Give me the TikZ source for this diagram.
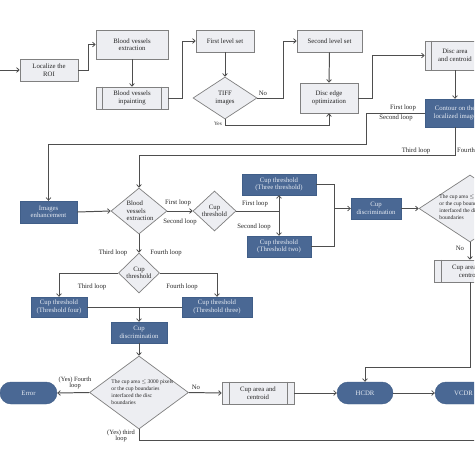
\documentclass[tikz,border=0pt]{standalone}
\usepackage{fontspec}
\setmainfont{Liberation Serif}
\usetikzlibrary{shapes.geometric,arrows.meta,calc}
\definecolor{dblue}{HTML}{4A6894}
\definecolor{dborder}{HTML}{405E88}
\definecolor{lfill}{HTML}{EDEEF2}
\definecolor{lborder}{HTML}{808080}
\definecolor{lnc}{HTML}{4E4E4E}
\definecolor{txt}{HTML}{262626}
\definecolor{wtxt}{HTML}{E6EBF3}
\begin{document}
\begin{tikzpicture}[x=0.5mm,y=-0.5mm,
  boxfont/.style={font=\fontsize{9.6}{10.8}\selectfont},
  lbox/.style={draw=lborder,line width=1pt,fill=lfill,text=txt,align=center,inner sep=0pt,boxfont},
  dbox/.style={draw=dborder,line width=0.6pt,fill=dblue,text=wtxt,align=center,inner sep=0pt,boxfont},
  stad/.style={dbox,rounded corners=5.5mm},
  dia/.style={diamond,draw=lborder,line width=1pt,fill=lfill,inner sep=0pt},
  dtext/.style={text=txt,align=center,boxfont},
  smalltext/.style={text=txt,align=left,font=\fontsize{7.9}{9.6}\selectfont},
  lab/.style={text=txt,font=\fontsize{9.5}{10.2}\selectfont,inner sep=0pt},
  conn/.style={draw=lnc,line width=1.4pt},
  arr/.style={conn,-{Straight Barb[length=1.3mm,width=2.4mm,line width=1.1pt]}},
  darr/.style={conn,{Straight Barb[length=1.3mm,width=2.4mm,line width=1.1pt]}-{Straight Barb[length=1.3mm,width=2.4mm,line width=1.1pt]}}
]
\useasboundingbox (0,0) rectangle (474,474);
\clip (0,0) rectangle (474,474);
\fill[white] (0,0) rectangle (474,474);

% ---------- top row ----------
\node[lbox,minimum width=29mm,minimum height=11mm] (roi) at (49,70) {Localize the\\ROI};
\node[lbox,minimum width=36mm,minimum height=14.5mm] (bve) at (132,44.5) {Blood vessels\\extraction};
\node[lbox,minimum width=36mm,minimum height=11mm] (bvi) at (132,98) {Blood vessels\\inpainting};
\draw[lborder,line width=1pt] ($(bvi.north west)+(7,0)$) -- ($(bvi.south west)+(7,0)$);
\draw[lborder,line width=1pt] ($(bvi.north east)+(-7,0)$) -- ($(bvi.south east)+(-7,0)$);
\node[lbox,minimum width=29mm,minimum height=11mm] (fls) at (225,41) {First level set};
\node[dia,minimum width=32mm,minimum height=21mm] (tiff) at (225,98) {};
\node[dtext] (tifft) at (tiff.center) {TIFF\\images};
\node[lbox,minimum width=32.5mm,minimum height=11mm] (sls) at (329.5,41) {Second level set};
\node[lbox,minimum width=29mm,minimum height=15mm] (deo) at (329,98) {Disc edge\\optimization};
\node[lbox,minimum width=30mm,minimum height=14.5mm] (dac) at (455,55.5) {Disc area\\and centroid};
\draw[lborder,line width=1pt] ($(dac.north west)+(7,0)$) -- ($(dac.south west)+(7,0)$);
\node[dbox,minimum width=30mm,minimum height=14mm] (con) at (455,113) {Contour on the\\localized image};

% ---------- middle ----------
\node[dbox,minimum width=28.5mm,minimum height=11mm] (ie) at (48.5,212) {Images\\enhancement};
\node[dia,minimum width=28mm,minimum height=23mm] (bvd) at (139,211) {};
\node[dtext,align=left] (bvdt) at (140,211) {Blood\\vessels\\extraction};
\node[dia,minimum width=21.5mm,minimum height=20mm] (ct1) at (214.5,211) {};
\node[dtext] (ct1t) at (ct1.center) {Cup\\threshold};
\node[dbox,minimum width=37mm,minimum height=10.5mm] (ctt) at (279,184.5) {Cup threshold\\(Three threshold)};
\node[dbox,minimum width=32mm,minimum height=10.5mm] (ct2) at (279,246.5) {Cup threshold\\(Threshold two)};
\node[dbox,minimum width=25mm,minimum height=10.5mm] (cd1) at (376,208.5) {Cup\\discrimination};
\node[dia,minimum width=51mm,minimum height=33.5mm] (bd1) at (470,208.5) {};
\node[smalltext,anchor=west] (bd1t) at (437,207) {The cup area $\leq$ 3000 pixels\\or the cup boundaries\\interfaced the disc\\boundaries};
\node[lbox,minimum width=36mm,minimum height=11mm] (car) at (470,271) {Cup area and\\centroid};
\draw[lborder,line width=1pt] ($(car.north west)+(8,0)$) -- ($(car.south west)+(8,0)$);

% ---------- lower ----------
\node[dia,minimum width=20.5mm,minimum height=20mm] (ct3) at (139,273) {};
\node[dtext] (ct3t) at (ct3.center) {Cup\\threshold};
\node[dbox,minimum width=28mm,minimum height=10mm] (tf4) at (59,307) {Cup threshold\\(Threshold four)};
\node[dbox,minimum width=35mm,minimum height=10mm] (tt3) at (217,307) {Cup threshold\\(Threshold three)};
\node[dbox,minimum width=28mm,minimum height=10.5mm] (cd2) at (139,332.5) {Cup\\discrimination};
\node[dia,minimum width=49.5mm,minimum height=36.5mm] (bd2) at (139,392.5) {};
\node[smalltext,anchor=west] (bd2t) at (109,392) {The cup area $\leq$ 3000 pixels\\or the cup boundaries\\interfaced the disc\\boundaries};
\node[stad,minimum width=28.5mm,minimum height=11mm] (err) at (28.5,393) {Error};
\node[lbox,minimum width=36mm,minimum height=11mm] (ca2) at (258,393) {Cup area and\\centroid};
\draw[lborder,line width=1pt] ($(ca2.north west)+(8,0)$) -- ($(ca2.south west)+(8,0)$);
\draw[lborder,line width=1pt] ($(ca2.north east)+(-7,0)$) -- ($(ca2.south east)+(-7,0)$);
\node[stad,minimum width=28mm,minimum height=11mm] (hcdr) at (365,393) {HCDR};
\node[stad,minimum width=28.5mm,minimum height=11mm] (vcdr) at (463.5,393) {VCDR};

% ---------- connectors ----------
\coordinate (start) at (-4,70);
\draw[arr] (start) -- (roi.west);
\draw[arr] (roi.east) -- ++(10,0) |- (bve.west);
\draw[arr] (bve.south) -- (bvi.north);
\draw[arr] (bvi.east) -- ++(14,0) |- (fls.west);
\draw[arr] (fls.south) -- (tiff.north);
\draw[arr] (tiff.east) -- ++(26,0) |- (sls.west);
\node[lab] (no1) at (263,93) {No};
\draw[arr] (sls.south) -- (deo.north);
\draw[arr] (tiff.south) -- ++(0,6) -| (deo.south);
\node[lab,font=\fontsize{7.5}{8}\selectfont] (yes1) at (218,124) {Yes};
\draw[arr] (deo.east) -- ++(14,0) |- (dac.west);
\draw[arr] (dac.south) -- (con.north);

\draw[arr] (con.west) -| (366,144) -| (ie.north);
\node[lab] (fl1) at (403,108) {First loop};
\node[lab] (sl1) at (396,118) {Second loop};
\draw[arr] (con.south) -- ++(0,28) -| (bvd.north);
\node[lab] (tl1) at (416,151) {Third loop};
\node[lab,anchor=west] (fo1) at (457,151) {Fourth loop};

\draw[arr] (ie.east) -- (bvd.west);
\draw[arr] (bvd.east) -- (ct1.west);
\node[lab] (fl2) at (178,203) {First loop};
\node[lab] (sl2) at (180,222) {Second loop};
\coordinate (j0) at (ctt.south |- ct1.east);
\draw[conn] (ct1.east) -- (j0);
\draw[darr] (ctt.south) -- (ct2.north);
\node[lab] (fl3) at (255,204) {First loop};
\node[lab] (sl3) at (254,227) {Second loop};
\coordinate (j1) at (334,208.5);
\draw[conn] (ctt.east) -| (j1);
\draw[conn] (ct2.east) -| (j1);
\draw[arr] (j1) -- (cd1.west);
\draw[arr] (cd1.east) -- (bd1.west);
\draw[arr] (bd1.south) -- (car.north);
\node[lab] (no2) at (460,248) {No};
\draw[arr] (car.south) -- ++(0,85) -| (hcdr.north);

\draw[arr] (bvd.south) -- (ct3.north);
\node[lab] (tl2) at (113,253) {Third loop};
\node[lab] (fo2) at (166,253) {Fourth loop};
\draw[arr] (ct3.west) -| (tf4.north);
\draw[arr] (ct3.east) -| (tt3.north);
\node[lab] (tl3) at (92,287) {Third loop};
\node[lab] (fo3) at (182,287) {Fourth loop};
\draw[conn] (tf4.east) -- (tt3.west);
\coordinate (j2) at (cd2.north |- tf4.east);
\draw[arr] (j2) -- (cd2.north);
\draw[arr] (cd2.south) -- (bd2.north);
\draw[arr] (bd2.west) -- (err.east);
\node[lab,align=center,font=\fontsize{9.2}{8.5}\selectfont] (yf) at (75,383) {(Yes) Fourth\\loop};
\draw[arr] (bd2.east) -- (ca2.west);
\node[lab] (no3) at (196,387) {No};
\draw[arr] (ca2.east) -- (hcdr.west);
\draw[arr] (hcdr.east) -- (vcdr.west);
\coordinate (offr) at (480,440);
\draw[conn] (bd2.south) |- (offr);
\node[lab,align=center,font=\fontsize{9.2}{8.5}\selectfont] (yt) at (121,436) {(Yes) third\\loop};
\end{tikzpicture}
\end{document}
